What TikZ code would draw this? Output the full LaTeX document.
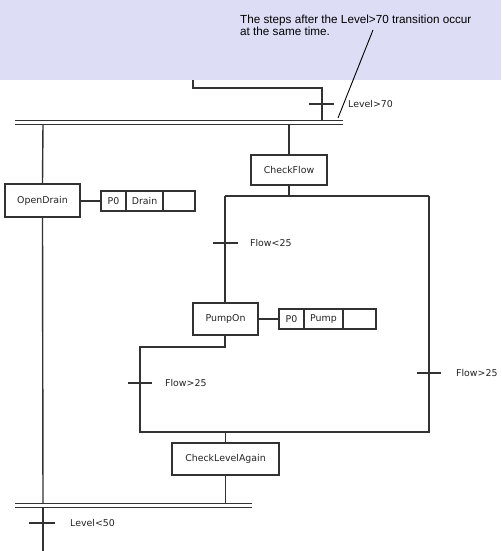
\documentclass[tikz,border=0pt]{standalone}
\usepackage{fontspec}
\setmainfont{Liberation Sans}
\newfontfamily\lblfont{DejaVu Sans}
\definecolor{band}{RGB}{221,221,246}
\definecolor{ln}{RGB}{50,50,50}
\definecolor{tx}{RGB}{35,35,35}
\tikzset{
  stepbox/.style={draw=ln, line width=1.4pt, inner sep=0pt, text=tx,
    font=\lblfont\fontsize{9.4}{11}\selectfont},
  cell/.style={draw=ln, line width=1.4pt, inner sep=0pt, minimum height=20pt, text=tx,
    font=\lblfont\fontsize{9.4}{11}\selectfont, outer sep=0pt},
  lbl/.style={anchor=west, inner sep=0pt, text=tx, font=\lblfont\fontsize{9.4}{11}\selectfont},
  wire/.style={draw=ln, line width=1.4pt},
  tick/.style={draw=ln, line width=1.4pt},
}
\begin{document}
\begin{tikzpicture}[x=1pt,y=-1pt]
\useasboundingbox (0,0) rectangle (501,551);
% top entry line
\coordinate (top) at (193,78);
\coordinate (topc) at (193,88);
\coordinate (topr) at (322,88);
\coordinate (bar1) at (322,120.5);
\draw[wire] (top) -- (topc) -- (topr) -- (bar1);
\fill[band] (0,0) rectangle (501,80);
% transition Level>70
\coordinate (t70) at (322,104);
\draw[tick] ([xshift=-13pt]t70) -- ([xshift=12pt]t70);
\node[lbl] (l70) at (348,104) {Level>70};
% double bar top
\draw[wire] (15,120.5) -- (343,120.5);
\draw[wire] (15,124.5) -- (343,124.5);
% annotation
\node[anchor=base west, align=left, inner sep=0pt, font=\fontsize{11.7}{12.4}\selectfont] (note) at (240,35.7)
  {The steps after the Level>70 transition occur\\at the same time.};
\coordinate (na) at (373,30);
\coordinate (nb) at (338,118);
\draw[line width=0.9pt, black] (na) -- (nb);
% steps
\node[stepbox, minimum width=75pt, minimum height=33pt] (od) at (42.5,200.5) {OpenDrain};
\node[stepbox, minimum width=76pt, minimum height=30pt] (cf) at (289,170) {CheckFlow};
\node[stepbox, minimum width=65pt, minimum height=32pt] (po) at (225.5,319) {PumpOn};
\node[stepbox, minimum width=107pt, minimum height=32pt] (cla) at (225.5,459) {CheckLevelAgain};
% action boxes
\node[cell, minimum width=25pt] (a1) at (113.5,201) {P0};
\node[cell, minimum width=37pt, anchor=west] (a2) at (a1.east) {Drain};
\node[cell, minimum width=32pt, anchor=west] (a3) at (a2.east) {};
\node[cell, minimum width=25pt] (b1) at (291.5,319) {P0};
\node[cell, minimum width=39pt, anchor=west] (b2) at (b1.east) {Pump};
\node[cell, minimum width=33pt, anchor=west] (b3) at (b2.east) {};
\draw[wire] (od.east |- a1.west) -- (a1.west);
\draw[wire] (po.east |- b1.west) -- (b1.west);
% left branch
\coordinate (lb1) at (43,124.5);
\draw[wire] (lb1) -- (od.north);
\coordinate (lb2) at (43,503.5);
\coordinate (lb3) at (43,551);
\draw[wire] (od.south) -- (lb2);
\draw[wire] (43,507.5) -- (lb3);
\coordinate (t50) at (43,523);
\draw[tick] ([xshift=-14pt]t50) -- ([xshift=12pt]t50);
\node[lbl] (l50) at (70,523) {Level<50};
% right branch
\coordinate (rb1) at (289,124.5);
\draw[wire] (rb1) -- (cf.north);
\coordinate (d1) at (289,196);
\coordinate (dl) at (225,196);
\coordinate (dr) at (429,196);
\draw[wire] (cf.south) -- (d1);
\draw[wire] (dl) -- (dr);
\draw[wire] (dl) -- (dl |- po.north);
\coordinate (t25a) at (225,243);
\draw[tick] ([xshift=-12pt]t25a) -- ([xshift=13pt]t25a);
\node[lbl] (l25a) at (250,243) {Flow<25};
% PumpOn loop
\coordinate (p1) at (225,347);
\coordinate (p2) at (140,347);
\coordinate (p3) at (140,432);
\coordinate (p4) at (429,432);
\draw[wire] (po.south -| p1) -- (p1) -- (p2) -- (p3) -- (p4) -- (dr);
\coordinate (t25b) at (140,383);
\draw[tick] ([xshift=-12pt]t25b) -- ([xshift=12pt]t25b);
\node[lbl] (l25b) at (165,383) {Flow>25};
\coordinate (t25c) at (429,373);
\draw[tick] ([xshift=-12pt]t25c) -- ([xshift=12pt]t25c);
\node[lbl] (l25c) at (456,373) {Flow>25};
% to CheckLevelAgain
\coordinate (c1) at (225.5,432);
\draw[wire] (c1) -- (cla.north);
\coordinate (c2) at (225.5,503.5);
\draw[wire] (cla.south) -- (c2);
% bottom double bar
\draw[wire] (15,503.5) -- (252,503.5);
\draw[wire] (15,507.5) -- (252,507.5);
\end{tikzpicture}
\end{document}
